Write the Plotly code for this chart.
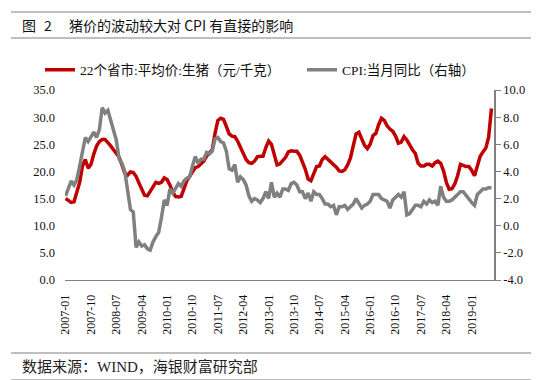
import plotly.graph_objects as go
import pandas as pd

months = pd.period_range("2007-01", "2019-08", freq="M").strftime("%Y-%m").tolist()

pig_price = [
    15.0, 14.6, 14.3, 14.4, 16.0, 18.0, 21.0, 22.2, 20.6, 21.3, 23.2, 24.7,
    25.5, 25.9, 25.9, 25.4, 24.7, 24.0, 23.3, 22.6, 21.2, 19.7, 19.3, 19.9,
    19.8, 19.1, 17.9, 16.6, 15.6, 15.5, 16.3, 17.3, 18.0, 17.8, 18.0, 18.8,
    18.5, 17.5, 16.2, 15.4, 15.3, 15.4, 16.9, 18.3, 19.1, 19.8, 20.7, 20.9,
    21.3, 21.9, 22.8, 23.3, 24.0, 27.0, 29.4, 29.8, 29.6, 28.3, 26.9, 26.5,
    26.4, 25.6, 24.5, 23.2, 22.2, 21.6, 21.5, 21.9, 22.7, 22.8, 22.8, 24.4,
    25.6, 25.0, 22.8, 21.2, 21.4, 22.0, 22.6, 23.6, 23.8, 23.7, 23.7, 23.0,
    21.8, 20.4, 18.6, 18.3, 19.6, 20.9, 21.0, 22.2, 22.7, 22.2, 21.8, 21.4,
    20.8, 20.1, 20.0, 20.3, 21.2, 22.5, 24.8, 26.9, 27.2, 26.1, 24.8, 24.2,
    25.0, 26.6, 27.0, 28.6, 29.8, 29.4, 28.4, 27.8, 27.4, 26.5, 25.2, 25.4,
    26.4, 25.8, 24.8, 24.0, 23.3, 21.5, 21.0, 21.0, 21.3, 21.3, 21.0, 21.6,
    21.9, 21.5, 20.1, 18.0, 16.7, 16.8, 17.7, 19.2, 21.3, 21.1, 20.9, 20.9,
    20.2, 19.2, 21.0, 22.8, 23.6, 24.3, 26.3, 31.6,
]

cpi_yoy = [
    2.2, 2.7, 3.3, 3.0, 3.4, 4.4, 5.6, 6.5, 6.2, 6.5, 6.9, 6.5,
    7.1, 8.7, 8.3, 8.5, 7.7, 7.1, 6.3, 4.9, 4.6, 4.0, 2.4, 1.2,
    1.0, -1.6, -1.2, -1.5, -1.4, -1.7, -1.8, -1.2, -0.8, -0.5, 0.6, 1.9,
    1.5, 2.7, 2.4, 2.8, 3.1, 2.9, 3.3, 3.5, 3.6, 4.4, 5.1, 4.6,
    4.9, 4.9, 5.4, 5.3, 5.5, 6.4, 6.5, 6.2, 6.1, 5.5, 4.2, 4.1,
    4.5, 3.2, 3.6, 3.4, 3.0, 2.2, 1.8, 2.0, 1.9, 1.7, 2.0, 2.5,
    2.0, 3.2, 2.1, 2.4, 2.1, 2.7, 2.7, 2.6, 3.1, 3.2, 3.0, 2.5,
    2.5, 2.0, 2.4, 1.8, 2.5, 2.3, 2.3, 2.0, 1.6, 1.6, 1.4, 1.5,
    0.8, 1.4, 1.4, 1.5, 1.2, 1.4, 1.6, 2.0, 1.6, 1.3, 1.5, 1.6,
    1.8, 2.3, 2.3, 2.3, 2.0, 1.9, 1.8, 1.3, 1.9, 2.1, 2.3, 2.1,
    2.5, 0.8, 0.9, 1.2, 1.5, 1.5, 1.4, 1.8, 1.6, 1.9, 1.7, 1.8,
    1.5, 2.9, 2.1, 1.8, 1.8, 1.9, 2.1, 2.3, 2.5, 2.5, 2.2, 1.9,
    1.7, 1.5, 2.3, 2.5, 2.7, 2.7, 2.8, 2.8,
]

x_tick_labels = ["2007-01", "2007-10", "2008-07", "2009-04", "2010-01", "2010-10",
                 "2011-07", "2012-04", "2013-01", "2013-10", "2014-07", "2015-04",
                 "2016-01", "2016-10", "2017-07", "2018-04", "2019-01"]
left_ticks = [0, 5, 10, 15, 20, 25, 30, 35]
left_tick_text = ["0.0", "5.0", "10.0", "15.0", "20.0", "25.0", "30.0", "35.0"]
right_ticks = [-4, -2, 0, 2, 4, 6, 8, 10]
right_tick_text = ["-4.0", "-2.0", "0.0", "2.0", "4.0", "6.0", "8.0", "10.0"]

name_pig = "22个省市:平均价:生猪（元/千克）"
name_cpi = "CPI:当月同比（右轴）"
title_fig = "图"
title_num = "2"
title_text = "猪价的波动较大对 CPI 有直接的影响"
source_text = "数据来源：WIND，海银财富研究部"

W, H = 539, 380
L, R, T, B = 57, 486, 82, 272

def px_x(p):
    return (p - L) / (R - L)

def px_y(p):
    return (B - p) / (B - T)

serif = "Liberation Serif, Noto Sans CJK SC, serif"
cjk = "Noto Sans CJK SC, sans-serif"

fig = go.Figure()
fig.add_trace(go.Scatter(x=months, y=pig_price, name=name_pig, mode="lines",
                         legendwidth=217,
                         line=dict(color="#C00000", width=3.5)))
fig.add_trace(go.Scatter(x=months, y=cpi_yoy, name=name_cpi, mode="lines", yaxis="y2",
                         legendwidth=140,
                         line=dict(color="#808080", width=3.5)))

fig.update_layout(
    width=W, height=H,
    margin=dict(l=L, r=W - R, t=T, b=H - B, pad=0, autoexpand=False),
    paper_bgcolor="white", plot_bgcolor="white",
    font=dict(family=serif, size=12, color="#111"),
    showlegend=True,
    legend=dict(orientation="h", xref="paper", yref="paper",
                x=px_x(32), y=px_y(62), xanchor="left", yanchor="middle",
                font=dict(family=serif, size=13.5, color="#111"),
                bgcolor="rgba(0,0,0,0)", itemwidth=30),
    xaxis=dict(type="category", range=[-0.2, 151.9], tickmode="array",
               tickvals=x_tick_labels, ticktext=x_tick_labels, tickangle=-90,
               showline=True, linecolor="#808080", linewidth=1, ticks="",
               showgrid=False, zeroline=False, ticklabelstandoff=9,
               tickfont=dict(family=serif, size=12, color="#111")),
    yaxis=dict(range=[0, 35], tickmode="array", tickvals=left_ticks, ticktext=left_tick_text,
               showgrid=False, zeroline=False, showline=False, ticks="",
               ticklabelstandoff=9, tickfont=dict(family=serif, size=12.5, color="#111")),
    yaxis2=dict(range=[-4, 10], overlaying="y", side="right", tickmode="array",
                tickvals=right_ticks, ticktext=right_tick_text,
                showgrid=False, zeroline=False, showline=True, linecolor="#808080",
                linewidth=1.5, ticks="outside", ticklen=5, tickcolor="#808080", tickwidth=1,
                tickfont=dict(family=serif, size=12.5, color="#111")),
)

rule = dict(color="#808080", width=1.2)
for py in (4, 30, 345, 372):
    fig.add_shape(type="line", xref="paper", yref="paper",
                  x0=px_x(3), x1=px_x(536), y0=px_y(py), y1=px_y(py), line=rule)

for txt, xp in ((title_fig, 12), (title_num, 34), (title_text, 59)):
    fig.add_annotation(xref="paper", yref="paper", x=px_x(xp), y=px_y(17), text=txt,
                       showarrow=False, xanchor="left", yanchor="middle",
                       font=dict(family=cjk, size=14, color="#111"))
fig.add_annotation(xref="paper", yref="paper", x=px_x(12), y=px_y(358), text=source_text,
                   showarrow=False, xanchor="left", yanchor="middle",
                   font=dict(family=serif, size=15, color="#222"))

fig.write_html("out.html")
